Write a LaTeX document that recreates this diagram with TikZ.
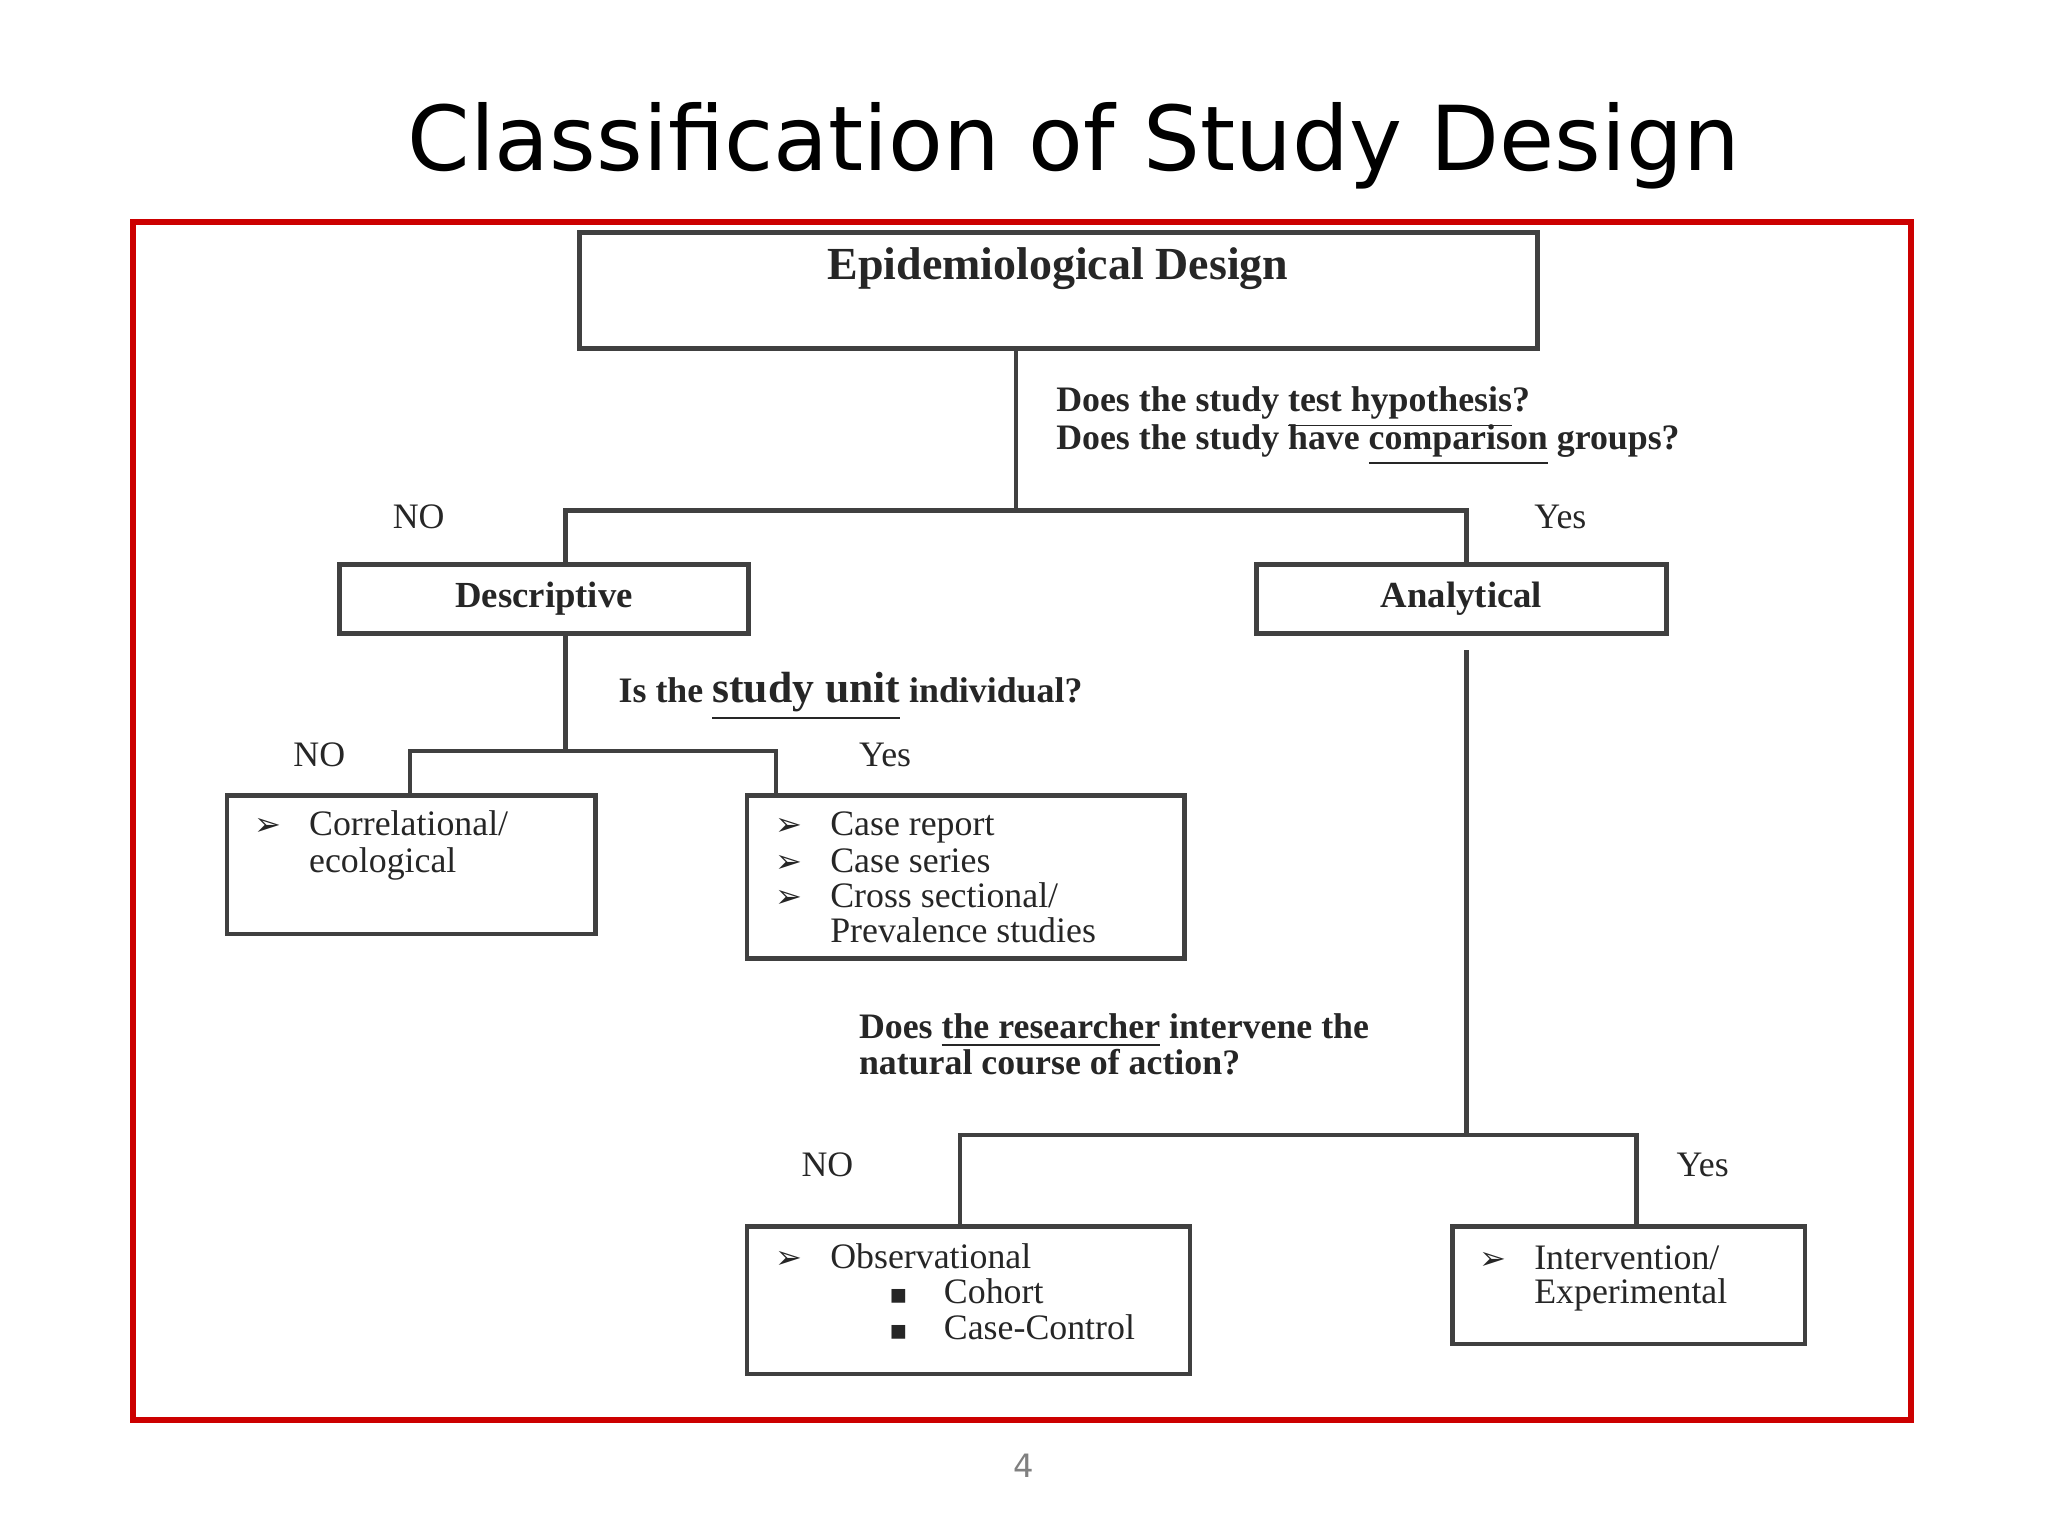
\documentclass[tikz,border=0pt]{standalone}
\usepackage{fontspec}
\setmainfont{Liberation Serif}
\newfontfamily\titlefont{DejaVu Sans}
\newfontfamily\symfont{DejaVu Sans}
\begin{document}
\begin{tikzpicture}[x=0.01cm,y=-0.01cm,
  box/.style={draw=black!75,line width=1pt,rectangle,inner sep=0pt},
  ln/.style={draw=black!75,line width=1pt},
  lab/.style={font=\fontsize{7.8}{9}\selectfont\bfseries,text=black!85,inner sep=0pt,anchor=west,text height=1.5ex,text depth=0.4ex},
  txt/.style={font=\fontsize{7.8}{9}\selectfont,text=black!85,inner sep=0pt,anchor=west,text height=1.5ex,text depth=0.4ex}]
\useasboundingbox (0,0) rectangle (1568,1176);
\node (title) at (822,112) {\titlefont\fontsize{19.5}{22}\selectfont Classification of Study Design};
\draw[red!80!black,line width=1.3pt] (102,170) rectangle (1463,1087);
\node[text=black!50,font=\titlefont\fontsize{7}{8}\selectfont] (pg) at (784,1122) {4};
% boxes
\node[box,minimum width=7.33cm,minimum height=0.89cm] (epi) at (810.5,222.5) {};
\node[font=\fontsize{10}{12}\selectfont\bfseries,text=black!85] (epit) at (810,206) {Epidemiological Design};
\node[box,minimum width=3.13cm,minimum height=0.53cm,font=\fontsize{8}{10}\selectfont\bfseries,text=black!85] (desc) at (416.5,458.5) {Descriptive};
\node[box,minimum width=3.14cm,minimum height=0.53cm,font=\fontsize{8}{10}\selectfont\bfseries,text=black!85] (ana) at (1119,458.5) {Analytical};
\node[box,minimum width=2.82cm,minimum height=1.06cm] (corr) at (315,662) {};
\node[box,minimum width=3.35cm,minimum height=1.25cm] (case) at (739.5,671.5) {};
\node[box,minimum width=3.39cm,minimum height=1.13cm] (obs) at (741.5,995.5) {};
\node[box,minimum width=2.70cm,minimum height=0.90cm] (int) at (1247,984) {};
% connectors
\coordinate (j1) at (778,391);
\coordinate (j2) at (433,575);
\coordinate (j3) at (1123,869);
\coordinate (astart) at (1123,498);
\draw[ln] (epi.south -| j1) -- (j1);
\draw[ln] (desc.north -| 433,0) -- (433,391) -- (1123,391) -- (ana.north -| 1123,0);
\draw[ln] (desc.south -| j2) -- (j2);
\draw[ln] (corr.north -| 314,0) -- (314,575) -- (594,575) -- (case.north -| 594,0);
\draw[ln] (astart) -- (j3);
\draw[ln] (obs.north -| 735,0) -- (735,869) -- (1253,869) -- (int.north -| 1253,0);
% labels
\node[lab] (q1a) at (808,306) {Does the study \underline{test hypothesis}?};
\node[lab] (q1b) at (808,335) {Does the study have \underline{comparison} groups?};
\node[txt] (no1) at (300,396) {NO};
\node[txt] (yes1) at (1174,396) {Yes};
\node[lab] (q2) at (473,529) {Is the \underline{\fontsize{9.5}{11}\selectfont study unit} individual?};
\node[txt] (no2) at (224,578) {NO};
\node[txt] (yes2) at (657,578) {Yes};
\node[lab] (q3a) at (657,786) {Does \underline{the researcher} intervene the};
\node[lab] (q3b) at (657,814) {natural course of action?};
\node[txt] (no3) at (613,892) {NO};
\node[txt] (yes3) at (1283,892) {Yes};
% box contents
\newcommand{\arr}{{\symfont\fontsize{7}{8}\selectfont ➢}}
\newcommand{\sq}{{\symfont\fontsize{6}{8}\selectfont ▪}}
\node[txt] (c1) at (194,631) {\arr}; \node[txt] (c1t) at (236,631) {Correlational/};
\node[txt] (c2t) at (236,659) {ecological};
\node[txt] (d1) at (593,631) {\arr}; \node[txt] (d1t) at (635,631) {Case report};
\node[txt] (d2) at (593,659) {\arr}; \node[txt] (d2t) at (635,659) {Case series};
\node[txt] (d3) at (593,686) {\arr}; \node[txt] (d3t) at (635,686) {Cross sectional/};
\node[txt] (d4t) at (635,713) {Prevalence studies};
\node[txt] (o1) at (593,962) {\arr}; \node[txt] (o1t) at (635,962) {Observational};
\node[txt] (o2) at (680,989) {\sq}; \node[txt] (o2t) at (722,989) {Cohort};
\node[txt] (o3) at (680,1017) {\sq}; \node[txt] (o3t) at (722,1017) {Case-Control};
\node[txt] (i1) at (1132,963) {\arr}; \node[txt] (i1t) at (1174,963) {Intervention/};
\node[txt] (i2t) at (1174,989) {Experimental};
\end{tikzpicture}
\end{document}
